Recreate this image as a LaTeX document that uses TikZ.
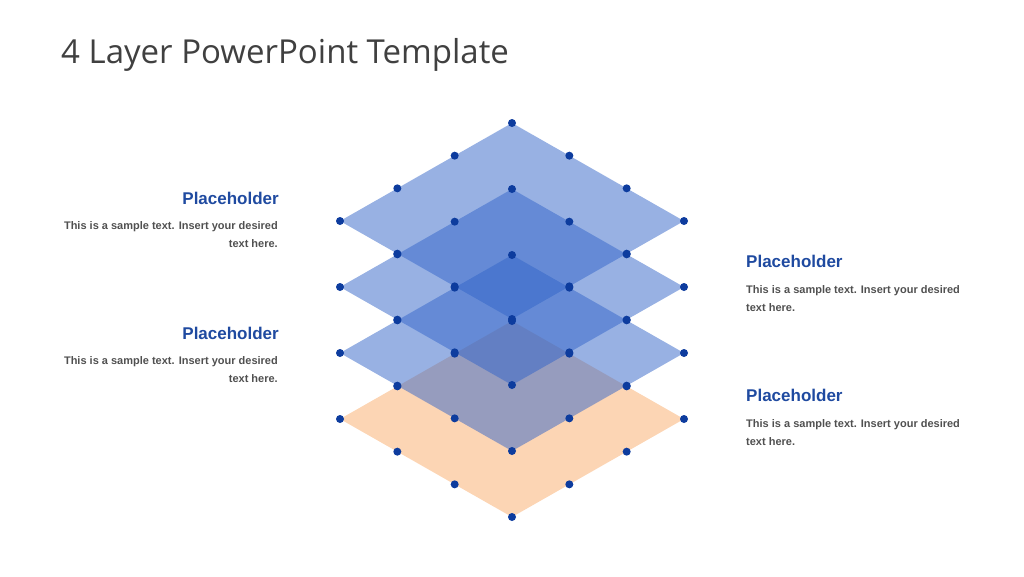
\documentclass[tikz,border=0pt]{standalone}
\usepackage{fontspec}
\setmainfont{Liberation Sans}
\newfontfamily\titlefont{Open Sans}
\begin{document}
\begin{tikzpicture}[x=1pt,y=-1pt,
  blue layer/.style={fill={rgb,255:red,50;green,100;blue,200},fill opacity=0.5},
  orange layer/.style={fill={rgb,255:red,252;green,213;blue,180}},
  dot/.style={circle,fill={rgb,255:red,13;green,60;blue,158},inner sep=0pt,minimum size=8pt},
  head/.style={font=\fontsize{17}{20}\selectfont\bfseries,text={rgb,255:red,31;green,74;blue,160},inner sep=0pt},
  body/.style={font=\fontsize{11}{18}\selectfont\bfseries,text={rgb,255:red,80;green,80;blue,80},inner sep=0pt,align=#1}]
\useasboundingbox (0,0) rectangle (1024,576);
\node[anchor=west,font=\titlefont\fontsize{33}{36}\selectfont,text={rgb,255:red,64;green,64;blue,64},inner sep=0pt] (title) at (61,55) {4 Layer PowerPoint Template};
\foreach \t/\s in {321/orange layer,255/blue layer,189/blue layer,123/blue layer}{
  \fill[\s] (512,\t) -- (684,\t+98) -- (512,\t+196) -- (340,\t+98) -- cycle;
}
\foreach \t in {123,189,255,321}{
  \foreach \i in {0,1,2}{
    \node[dot] at (512-\i*57.333,\t+\i*32.667) {};
    \node[dot] at (340+\i*57.333,\t+98+\i*32.667) {};
    \node[dot] at (512+\i*57.333,\t+196-\i*32.667) {};
    \node[dot] at (684-\i*57.333,\t+98-\i*32.667) {};
  }
}
\node[head,anchor=east] (h1) at (279,198) {Placeholder};
\node[body=right,anchor=north east] (b1) at (278,221) {This is a sample text. Insert your desired\\text here.};
\node[head,anchor=east] (h2) at (279,333) {Placeholder};
\node[body=right,anchor=north east] (b2) at (278,356) {This is a sample text. Insert your desired\\text here.};
\node[head,anchor=west] (h3) at (746,261) {Placeholder};
\node[body=left,anchor=north west] (b3) at (746,285) {This is a sample text. Insert your desired\\text here.};
\node[head,anchor=west] (h4) at (746,395) {Placeholder};
\node[body=left,anchor=north west] (b4) at (746,419) {This is a sample text. Insert your desired\\text here.};
\end{tikzpicture}
\end{document}
